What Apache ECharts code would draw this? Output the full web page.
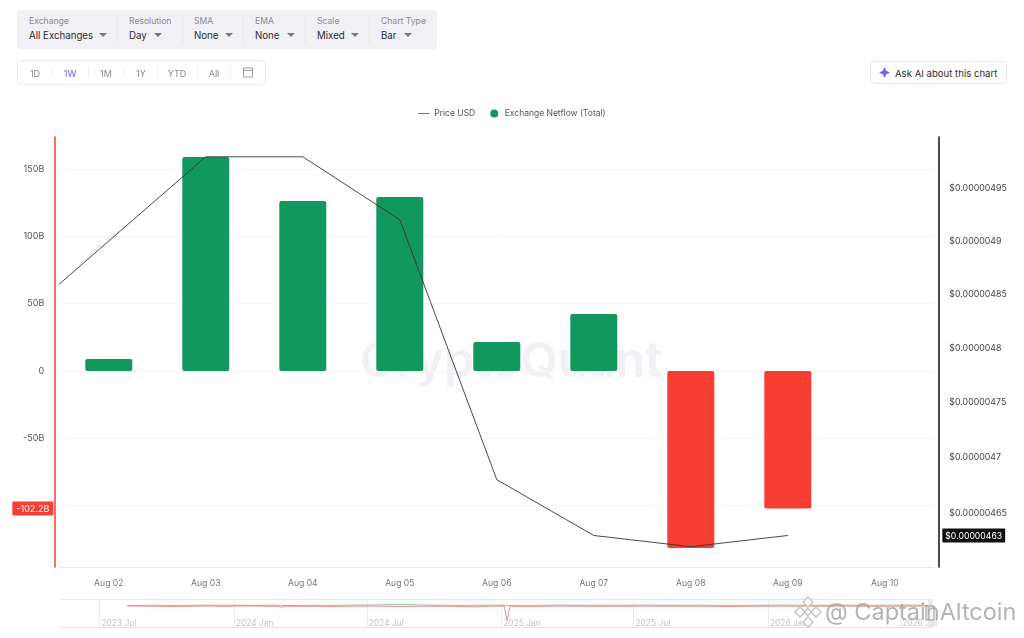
<!DOCTYPE html>
<html>
<head>
<meta charset="utf-8">
<script src="https://cdn.jsdelivr.net/npm/echarts@6/dist/echarts.min.js"></script>
<style>
html,body{margin:0;padding:0;background:#fff;width:1024px;height:638px;overflow:hidden;font-family:Inter,"Noto Sans",sans-serif}
#chart{position:absolute;left:0;top:0;width:1024px;height:638px}
.ui{position:absolute;box-sizing:border-box;white-space:nowrap}
#panel{left:17px;top:10px;width:420px;height:39px;background:#f0f0f5;border-radius:4px}
.lab{font-size:8.6px;color:#8a8a92;line-height:12px}
.val{font-size:9.7px;color:#2c2c30;line-height:14px}
.tri{width:0;height:0;border-left:4px solid transparent;border-right:4px solid transparent;border-top:4.5px solid #77777d}
.div{width:1px;background:#e6e6ec}
#range{left:17px;top:60px;width:249px;height:25px;border:1px solid #e8e8ee;border-radius:5px;background:#fff}
.rg{font-size:9px;color:#88888f;line-height:12px;transform:translateX(-50%)}
#ai{left:870px;top:61px;width:137px;height:23px;border:1px solid #e4e4ea;border-radius:5px;background:#fff;font-size:9.6px;color:#2c2c30;line-height:23px;padding-left:24px}
</style>
</head>
<body>
<div id="chart"></div>
<div id="ui"></div>
<script>
// ---- chart data ----
const categories = ['Aug 01','Aug 02','Aug 03','Aug 04','Aug 05','Aug 06','Aug 07','Aug 08','Aug 09','Aug 10'];
const netflowValues = [null, 8.9, 159, 126.3, 129.3, 21.5, 42.3, -131.5, -102.2, null];
const priceValues = [482.1e-9, 490e-9, 498e-9, 498e-9, 492e-9, 468e-9, 463e-9, 462e-9, 463e-9, null];
const leftGridTicks = [-100, -50, 0, 50, 100, 150];
const leftLabelTicks = [-50, 0, 50, 100, 150];
const rightTicks = [465e-9, 470e-9, 475e-9, 480e-9, 485e-9, 490e-9, 495e-9];
const rightTickLabels = ['$0.00000465','$0.0000047','$0.00000475','$0.0000048','$0.00000485','$0.0000049','$0.00000495'];
const latestNetflow = -102.2;
const latestPrice = 463e-9;

// ---- overview strip (read by eye) ----
const miniDates = ['2023-08-08','2023-09-10','2023-10-15','2023-11-20','2023-12-20','2024-01-10','2024-02-10','2024-03-01','2024-03-05','2024-03-12','2024-04-15','2024-05-20','2024-06-15','2024-07-10','2024-08-15','2024-09-20','2024-10-25','2024-11-25','2024-12-15','2025-01-05','2025-01-09','2025-01-13','2025-02-10','2025-03-20','2025-04-25','2025-06-01','2025-07-10','2025-08-20','2025-10-01','2025-11-10','2025-12-20','2026-01-20','2026-03-01','2026-04-15','2026-06-01','2026-07-10','2026-08-09'];
const miniRed = [-20,-30,-40,-20,-30,-20,-25,-30,-70,-30,-30,-40,-25,-20,-40,-25,-30,-50,-30,-20,-590,-30,-40,-25,-30,-30,-25,-30,-30,-40,-30,-25,-30,-25,-30,-25,-20];
const miniGreen = [0,10,5,10,5,10,5,10,0,0,5,10,20,15,50,10,5,10,15,10,0,5,10,15,10,5,15,10,15,5,10,15,10,15,10,15,10];
const miniTicks = ['2023-07-01','2024-01-01','2024-07-01','2025-01-01','2025-07-01','2026-01-01','2026-07-01'];
const miniTickLabels = ['2023 Jul','2024 Jan','2024 Jul','2025 Jan','2025 Jul','2026 Jan','2026 Jul'];
const miniStart = '2023-05-08', miniEnd = '2026-08-15';

const GREEN = '#12985e', RED = '#f63e32';
const fmtLeft = v => v === 0 ? '0' : v + 'B';
const ms = d => Date.parse(d);

// ---- toolbar (plain HTML around the chart) ----
const filters = [
  ['Exchange','All Exchanges',29,99,117],['Resolution','Day',129,154,182],['SMA','None',194,225,243],
  ['EMA','None',255,287,305],['Scale','Mixed',317,351,369],['Chart Type','Bar',381,404,null]];
const ranges = [['1D',35,52],['1W',70,88],['1M',106,123],['1Y',141,157],['YTD',177,197],['All',214,230]];
let h = '<div class="ui" id="panel"></div><div class="ui" id="range"></div>';
filters.forEach(f=>{
  h += `<div class="ui lab" style="left:${f[2]}px;top:15px">${f[0]}</div>`;
  h += `<div class="ui val" style="left:${f[2]}px;top:29px">${f[1]}</div>`;
  h += `<div class="ui tri" style="left:${f[3]}px;top:33px"></div>`;
  if(f[4]) h += `<div class="ui div" style="left:${f[4]}px;top:15px;height:29px"></div>`;
});
ranges.forEach((r,i)=>{
  h += `<div class="ui rg" style="left:${r[1]}px;top:67.5px;${i==1?'color:#6a5cf5':''}">${r[0]}</div>`;
  h += `<div class="ui div" style="left:${r[2]}px;top:66px;height:12px;background:#ececf1"></div>`;
});
h += `<svg class="ui" style="left:243px;top:67px" width="10" height="11" viewBox="0 0 10 11"><rect x=".5" y="1" width="9" height="9" fill="none" stroke="#8a8a92" stroke-width=".8"/><line x1=".5" y1="3.5" x2="9.5" y2="3.5" stroke="#8a8a92" stroke-width=".8"/></svg>`;
h += `<div class="ui" id="ai">Ask AI about this chart</div>`;
h += `<svg class="ui" style="left:879px;top:67px" width="11" height="11" viewBox="0 0 11 11"><path d="M5.5 0 L7.2 3.8 L11 5.5 L7.2 7.2 L5.5 11 L3.8 7.2 L0 5.5 L3.8 3.8 Z" fill="#6f62f6"/></svg>`;
document.getElementById('ui').innerHTML = h;

// ---- chart ----
const chart = echarts.init(document.getElementById('chart'), null, {renderer:'canvas'});
const diamond = (cx,cy,r) => ({type:'polygon',shape:{points:[[cx,cy-r],[cx+r,cy],[cx,cy+r],[cx-r,cy]]},
  style:{fill:'#fff',stroke:'#c9c9c9',lineWidth:1.6},z:50});
chart.setOption({
  animation:false,
  textStyle:{fontFamily:'Inter, "Noto Sans", sans-serif'},
  legend:{
    top:104,left:'center',itemGap:15,itemWidth:11,itemHeight:8,
    textStyle:{fontSize:8.5,color:'#555'},
    data:[
      {name:'Price USD',icon:'path://M0 4.5H11V5.2H0Z',itemStyle:{color:'#333'}},
      {name:'Exchange Netflow (Total)',icon:'circle',itemStyle:{color:GREEN}}
    ]
  },
  grid:[
    {left:60.3,right:90.7,top:137,bottom:71},
    {left:60,right:91,top:599,bottom:11}
  ],
  xAxis:[
    {type:'category',gridIndex:0,data:categories,min:1,boundaryGap:true,
     axisLine:{onZero:false,lineStyle:{color:'#e6e6ea',width:1}},
     axisTick:{alignWithLabel:true,length:6,lineStyle:{color:'#dcdce0'}},
     axisLabel:{fontSize:8.6,color:'#777',margin:12},splitLine:{show:false}},
    {type:'value',gridIndex:1,min:ms(miniStart),max:ms(miniEnd),
     axisLine:{onZero:false,lineStyle:{color:'#e6e6ea'}},axisTick:{show:false,customValues:miniTicks.map(ms)},
     splitLine:{show:true,lineStyle:{color:'#ececef'}},
     axisLabel:{inside:true,align:'left',margin:0,padding:[0,0,0,2],fontSize:8.4,color:'#c4c4c8',hideOverlap:false,
       customValues:miniTicks.map(ms),
       formatter:v=>miniTickLabels[miniTicks.map(ms).indexOf(v)]||''}}
  ],
  yAxis:[
    {type:'value',gridIndex:0,position:'left',min:-145.6,max:173.8,offset:6,
     axisLine:{show:true,lineStyle:{color:RED,width:1.5}},
     axisTick:{show:false,customValues:leftGridTicks},
     axisLabel:{customValues:leftLabelTicks,formatter:fmtLeft,fontSize:9,color:'#555',margin:10,padding:[3,0,0,0]},
     splitLine:{show:true,lineStyle:{color:'#f6f6f7'}},
     axisPointer:{show:true,status:'show',value:latestNetflow,triggerTooltip:false,triggerEmphasis:false,
       lineStyle:{opacity:0},
       label:{show:true,backgroundColor:RED,color:'#fff',fontSize:9,padding:[3,4,2,4],borderRadius:1,margin:1,formatter:p=>p.value.toFixed(1)+'B'}}},
    {type:'log',gridIndex:0,position:'right',min:460.2e-9,max:499.9e-9,offset:5,logBase:10,
     axisLine:{show:true,lineStyle:{color:'#111',width:1.5}},
     axisTick:{show:false,customValues:rightTicks},
     axisLabel:{customValues:rightTicks,fontSize:8.8,color:'#444',margin:11,padding:[3,0,0,0],
       formatter:v=>{const i=rightTicks.findIndex(t=>Math.abs(t-v)<1e-9);return i>=0?rightTickLabels[i]:'';}},
     splitLine:{show:false},
     axisPointer:{show:true,status:'show',value:latestPrice,triggerTooltip:false,triggerEmphasis:false,
       lineStyle:{opacity:0},
       label:{show:true,backgroundColor:'#111',color:'#fff',fontSize:8.7,padding:[3,3,2,3],borderRadius:1,margin:4,formatter:()=>'$0.00000463'}}},
    {type:'value',gridIndex:1,min:-860,max:260,show:false}
  ],
  graphic:[
    {type:'text',x:511,y:362,z:0,style:{text:'CryptoQuant',fill:'#f0f0f5',font:'600 48.5px Inter, sans-serif',textAlign:'center',textVerticalAlign:'middle'}},
    {type:'line',shape:{x1:60,y1:599.5,x2:933,y2:599.5},style:{stroke:'#e6e6ea',lineWidth:1},z:1},
    {type:'rect',shape:{x:928,y:600,width:5,height:27},style:{fill:'#e8e8ee'},z:40},
    {type:'rect',shape:{x:926,y:606,width:8,height:14},style:{fill:'rgba(255,255,255,.6)',stroke:'#8f8f8f',lineWidth:1},z:60},
    diamond(808,602,5),diamond(800,612,5),diamond(816,612,5),diamond(808,622,5),diamond(808,612,3.5),
    {type:'text',x:825,y:613,z:60,style:{text:'@ CaptainAltcoin',fill:'rgba(160,160,160,.8)',font:'23.5px Inter, "Noto Sans", sans-serif',textVerticalAlign:'middle',shadowColor:'rgba(0,0,0,.12)',shadowBlur:2}}
  ],
  series:[
    {name:'Exchange Netflow (Total)',type:'bar',xAxisIndex:0,yAxisIndex:0,barWidth:47,z:2,
     itemStyle:{color:GREEN},
     data:netflowValues.map(v=>v===null?null:({value:v,itemStyle:{color:v<0?RED:GREEN,borderRadius:2}}))},
    {name:'Price USD',type:'line',xAxisIndex:0,yAxisIndex:1,data:priceValues,symbol:'none',z:3,clip:true,
     lineStyle:{color:'#333',width:0.9},itemStyle:{color:'#333'}},
    {name:'miniRed',type:'line',xAxisIndex:1,yAxisIndex:2,symbol:'none',silent:true,
     data:miniDates.map((d,i)=>[ms(d),miniRed[i]]),lineStyle:{color:'#f8807a',width:0.9}},
    {name:'miniGreen',type:'line',xAxisIndex:1,yAxisIndex:2,symbol:'none',silent:true,
     data:miniDates.map((d,i)=>[ms(d),miniGreen[i]]),lineStyle:{color:'#4cb48a',width:0.7}}
  ]
});
</script>
</body>
</html>
